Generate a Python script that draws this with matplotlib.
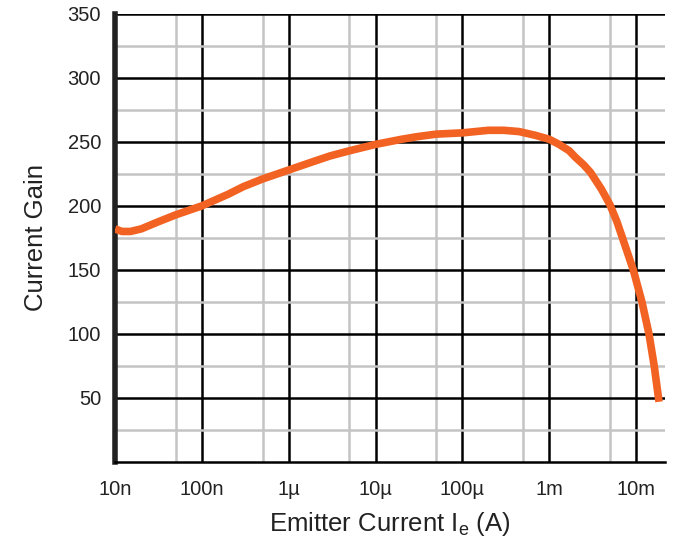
import numpy as np
import matplotlib
matplotlib.use("Agg")
import matplotlib.pyplot as plt
from matplotlib.ticker import FixedLocator, NullFormatter

plt.rcParams['font.family'] = ['Liberation Sans', 'DejaVu Sans']
plt.rcParams['mathtext.default'] = 'regular'

# emitter current (A) and current gain
current = [1e-8, 1.2e-8, 1.5e-8, 2e-8, 3e-8, 5e-8, 1e-7, 2e-7, 3e-7, 5e-7,
           1e-6, 2e-6, 3e-6, 5e-6, 1e-5, 2e-5, 3e-5, 5e-5, 1e-4, 2e-4,
           3e-4, 4.5e-4, 7e-4, 1e-3, 1.3e-3, 1.7e-3, 2e-3, 2.5e-3, 3e-3,
           4e-3, 5e-3, 6e-3, 6.9e-3, 9.3e-3, 1.17e-2, 1.41e-2, 1.62e-2, 1.84e-2]
gain = [182, 180, 180, 182, 187, 193, 200, 209, 215, 221,
        228, 235, 239, 243, 248, 252, 254, 256, 257, 259,
        259, 258, 255, 252, 248, 243, 238, 232, 226,
        213, 201, 188, 176, 150, 125, 100, 75, 47]

xticks = [1e-8, 1e-7, 1e-6, 1e-5, 1e-4, 1e-3, 1e-2]
xlabels = ['10n', '100n', '1µ', '10µ', '100µ', '1m', '10m']
yticks = [50, 100, 150, 200, 250, 300, 350]

fig = plt.figure(figsize=(6.89, 5.5), dpi=100)
ax = fig.add_axes([0.167, 0.16, 0.798, 0.815])

ax.set_xscale('log')
ax.set_xlim(1e-8, 2.15e-2)
ax.set_ylim(0, 350)

ax.xaxis.set_major_locator(FixedLocator(xticks))
ax.xaxis.set_minor_locator(FixedLocator([5 * t for t in xticks]))
ax.xaxis.set_minor_formatter(NullFormatter())
ax.set_xticks(xticks)
ax.set_xticklabels(xlabels)
ax.set_yticks(yticks)
ax.yaxis.set_minor_locator(FixedLocator(np.arange(25, 350, 50)))

ax.grid(True, which='minor', color='#c4c4c4', lw=1.8, zorder=1)
ax.grid(True, which='major', color='black', lw=1.8, zorder=2)
ax.set_axisbelow(True)

ax.plot(current, gain, color='#f26222', lw=5.5, solid_capstyle='butt',
        solid_joinstyle='round', zorder=5)

for s in ['top', 'right']:
    ax.spines[s].set_visible(False)
ax.spines['bottom'].set_linewidth(1.8)
ax.spines['left'].set_linewidth(4)
ax.spines['left'].set_color('#222222')

ax.tick_params(which='both', length=0)
ax.tick_params(axis='x', labelsize=14.5, pad=13)
ax.tick_params(axis='y', labelsize=14.5, pad=10)
for lab in ax.get_xticklabels() + ax.get_yticklabels():
    lab.set_color('#222222')

ax.set_xlabel('Emitter Current I$_e$ (A)', fontsize=18.5, labelpad=8, color='#222222')
ax.set_ylabel('Current Gain', fontsize=18.5, labelpad=14, color='#222222')

fig.savefig('out.png', dpi=100)
